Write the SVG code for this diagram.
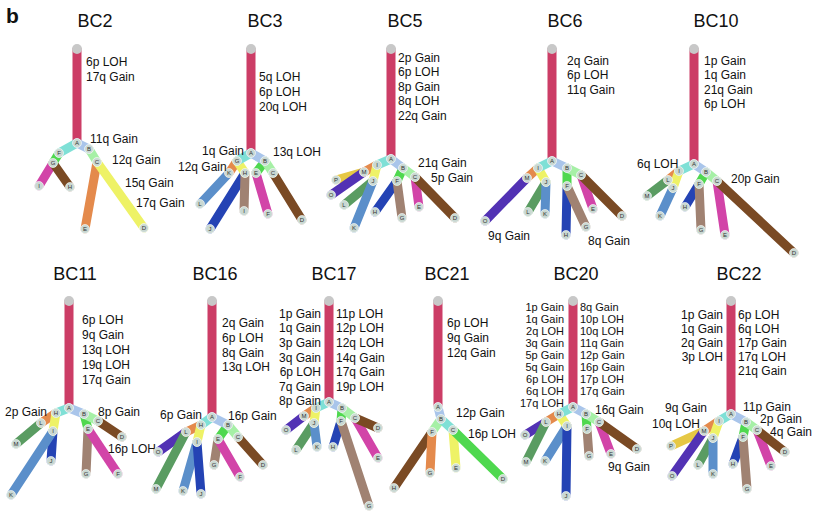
<svg xmlns="http://www.w3.org/2000/svg" width="824" height="515" viewBox="0 0 824 515">
<style>
text{font-family:"Liberation Sans",Arial,sans-serif;fill:#111}
.t{font-size:12px}.s{font-size:11px}.h{font-size:18px;text-anchor:middle}.r{text-anchor:end}
line{stroke-width:9;stroke-linecap:round}
.tr{stroke:#cc3d66;stroke-linecap:butt}.cy{stroke:#7fe0d6}.lb{stroke:#a9c5ea}.lg{stroke:#a6f0a6}.gr{stroke:#4fd84f}.br{stroke:#7a4a24}.mg{stroke:#d244a8}.tp{stroke:#a08272}.bl{stroke:#2443b4}.or{stroke:#e48a4c}.ye{stroke:#eef266}.sb{stroke:#5b8fca}.dg{stroke:#5a9c62}.pu{stroke:#5232b4}.go{stroke:#e6c845}
circle{fill:#c9d8d2;stroke:#fff;stroke-width:.6}
.cap{fill:#c8c8c8;stroke:none}
.n{font-size:6px;text-anchor:middle;fill:#333}
</style>
<rect width="824" height="515" fill="#fff"/>
<text x="6" y="23" style="font-size:21px;font-weight:bold">b</text>
<g id="titles">
<text class="h" x="95" y="27">BC2</text><text class="h" x="265" y="27">BC3</text><text class="h" x="405" y="27">BC5</text><text class="h" x="565" y="27">BC6</text><text class="h" x="716" y="27">BC10</text>
<text class="h" x="75" y="280">BC11</text><text class="h" x="215" y="280">BC16</text><text class="h" x="334" y="280">BC17</text><text class="h" x="447" y="280">BC21</text><text class="h" x="576" y="280">BC20</text><text class="h" x="739" y="280">BC22</text>
</g>
<g id="connectors">
<line class="tr" x1="77" y1="48" x2="77" y2="143"/>
<line class="or" x1="97" y1="162" x2="85" y2="229"/><line class="ye" x1="97" y1="162" x2="144" y2="228"/>
<line class="mg" x1="53" y1="163" x2="39" y2="186"/><line class="br" x1="53" y1="163" x2="70" y2="187"/>
<line class="gr" x1="59" y1="153" x2="53" y2="163"/><line class="cy" x1="77" y1="143" x2="59" y2="153"/>
<line class="lg" x1="89" y1="149" x2="97" y2="162"/><line class="lb" x1="77" y1="143" x2="89" y2="149"/>
<line class="tr" x1="251" y1="48" x2="251" y2="153"/>
<line class="sb" x1="229" y1="173" x2="200" y2="204"/><line class="bl" x1="245" y1="173" x2="210" y2="229"/><line class="tp" x1="245" y1="173" x2="244" y2="211"/>
<line class="mg" x1="256" y1="173" x2="268" y2="214"/><line class="br" x1="273" y1="173" x2="302" y2="220"/>
<line class="or" x1="237" y1="161" x2="229" y2="173"/><line class="ye" x1="237" y1="161" x2="245" y2="173"/><line class="cy" x1="251" y1="153" x2="237" y2="161"/>
<line class="gr" x1="265" y1="161" x2="256" y2="173"/><line class="lg" x1="265" y1="161" x2="273" y2="173"/><line class="lb" x1="251" y1="153" x2="265" y2="161"/>
<line class="tr" x1="391" y1="48" x2="391" y2="159"/>
<line class="go" x1="364" y1="172" x2="336" y2="180"/><line class="pu" x1="364" y1="172" x2="331" y2="195"/>
<line class="dg" x1="373" y1="181" x2="344" y2="205"/><line class="sb" x1="373" y1="181" x2="354" y2="228"/>
<line class="bl" x1="397" y1="181" x2="375" y2="212"/><line class="tp" x1="397" y1="181" x2="402" y2="218"/>
<line class="mg" x1="415" y1="177" x2="419" y2="207"/><line class="br" x1="415" y1="177" x2="455" y2="218"/>
<line class="or" x1="377" y1="165" x2="364" y2="172"/><line class="ye" x1="377" y1="165" x2="373" y2="181"/><line class="cy" x1="391" y1="159" x2="377" y2="165"/>
<line class="gr" x1="403" y1="168" x2="397" y2="181"/><line class="lg" x1="403" y1="168" x2="415" y2="177"/><line class="lb" x1="391" y1="159" x2="403" y2="168"/>
<line class="tr" x1="552" y1="48" x2="552" y2="161"/>
<line class="pu" x1="527" y1="178" x2="485" y2="221"/>
<line class="dg" x1="546" y1="182" x2="528" y2="212"/><line class="sb" x1="546" y1="182" x2="545" y2="214"/>
<line class="bl" x1="567" y1="186" x2="566" y2="235"/><line class="tp" x1="567" y1="186" x2="586" y2="227"/>
<line class="mg" x1="581" y1="175" x2="593" y2="209"/><line class="br" x1="581" y1="175" x2="622" y2="216"/>
<line class="or" x1="538" y1="168" x2="527" y2="178"/><line class="ye" x1="538" y1="168" x2="546" y2="182"/><line class="cy" x1="552" y1="161" x2="538" y2="168"/>
<line class="gr" x1="567" y1="168" x2="567" y2="186"/><line class="lg" x1="567" y1="168" x2="581" y2="175"/><line class="lb" x1="552" y1="161" x2="567" y2="168"/>
<line class="tr" x1="694" y1="48" x2="694" y2="164"/>
<line class="dg" x1="668" y1="180" x2="647" y2="196"/><line class="sb" x1="673" y1="188" x2="660" y2="216"/>
<line class="bl" x1="699" y1="184" x2="685" y2="207"/><line class="tp" x1="699" y1="184" x2="701" y2="230"/>
<line class="mg" x1="717" y1="181" x2="725" y2="235"/><line class="br" x1="717" y1="181" x2="794" y2="253"/>
<line class="or" x1="679" y1="171" x2="668" y2="180"/><line class="ye" x1="679" y1="171" x2="673" y2="188"/><line class="cy" x1="694" y1="164" x2="679" y2="171"/>
<line class="gr" x1="706" y1="172" x2="699" y2="184"/><line class="lg" x1="706" y1="172" x2="717" y2="181"/><line class="lb" x1="694" y1="164" x2="706" y2="172"/>
<line class="tr" x1="69" y1="300" x2="69" y2="408"/>
<line class="dg" x1="41" y1="423" x2="16" y2="444"/><line class="bl" x1="53" y1="431" x2="51" y2="461"/><line class="sb" x1="53" y1="431" x2="11" y2="495"/>
<line class="tp" x1="88" y1="429" x2="86" y2="474"/><line class="mg" x1="88" y1="429" x2="118" y2="474"/><line class="br" x1="98" y1="421" x2="122" y2="437"/>
<line class="or" x1="56" y1="413" x2="41" y2="423"/><line class="ye" x1="56" y1="413" x2="53" y2="431"/><line class="cy" x1="69" y1="408" x2="56" y2="413"/>
<line class="gr" x1="84" y1="414" x2="88" y2="429"/><line class="lg" x1="84" y1="414" x2="98" y2="421"/><line class="lb" x1="69" y1="408" x2="84" y2="414"/>
<line class="tr" x1="212" y1="300" x2="212" y2="417"/>
<line class="pu" x1="186" y1="432" x2="158" y2="452"/><line class="dg" x1="186" y1="432" x2="156" y2="489"/>
<line class="sb" x1="197" y1="442" x2="183" y2="491"/><line class="bl" x1="197" y1="442" x2="201" y2="494"/>
<line class="tp" x1="218" y1="439" x2="214" y2="465"/><line class="mg" x1="218" y1="439" x2="240" y2="477"/><line class="br" x1="238" y1="437" x2="263" y2="465"/>
<line class="or" x1="201" y1="425" x2="186" y2="432"/><line class="ye" x1="201" y1="425" x2="197" y2="442"/><line class="cy" x1="212" y1="417" x2="201" y2="425"/>
<line class="gr" x1="228" y1="425" x2="218" y2="439"/><line class="lg" x1="228" y1="425" x2="238" y2="437"/><line class="lb" x1="212" y1="417" x2="228" y2="425"/>
<line class="tr" x1="329" y1="300" x2="329" y2="402"/>
<line class="pu" x1="304" y1="416" x2="286" y2="430"/><line class="dg" x1="314" y1="423" x2="296" y2="450"/><line class="sb" x1="314" y1="423" x2="317" y2="447"/>
<line class="bl" x1="341" y1="421" x2="333" y2="447"/><line class="tp" x1="341" y1="421" x2="369" y2="506"/>
<line class="mg" x1="355" y1="418" x2="378" y2="458"/><line class="br" x1="355" y1="418" x2="378" y2="428"/>
<line class="or" x1="316" y1="408" x2="304" y2="416"/><line class="ye" x1="316" y1="408" x2="314" y2="423"/><line class="cy" x1="329" y1="402" x2="316" y2="408"/>
<line class="gr" x1="342" y1="408" x2="341" y2="421"/><line class="lg" x1="342" y1="408" x2="355" y2="418"/><line class="lb" x1="329" y1="402" x2="342" y2="408"/>
<line class="tr" x1="438" y1="300" x2="438" y2="407"/>
<line class="br" x1="432" y1="432" x2="394" y2="488"/><line class="or" x1="432" y1="432" x2="430" y2="473"/>
<line class="ye" x1="453" y1="430" x2="456" y2="468"/><line class="gr" x1="453" y1="430" x2="503" y2="479"/>
<line class="lg" x1="441" y1="419" x2="432" y2="432"/><line class="cy" x1="441" y1="419" x2="453" y2="430"/><line class="lb" x1="438" y1="407" x2="441" y2="419"/>
<line class="tr" x1="573" y1="300" x2="573" y2="407"/>
<line class="pu" x1="546" y1="422" x2="525" y2="435"/><line class="dg" x1="546" y1="422" x2="526" y2="462"/>
<line class="sb" x1="567" y1="426" x2="545" y2="461"/><line class="bl" x1="567" y1="426" x2="566" y2="496"/>
<line class="tp" x1="587" y1="429" x2="589" y2="456"/><line class="mg" x1="599" y1="422" x2="611" y2="454"/><line class="br" x1="599" y1="422" x2="637" y2="449"/>
<line class="or" x1="559" y1="414" x2="546" y2="422"/><line class="ye" x1="559" y1="414" x2="567" y2="426"/><line class="cy" x1="573" y1="407" x2="559" y2="414"/>
<line class="gr" x1="586" y1="414" x2="587" y2="429"/><line class="lg" x1="586" y1="414" x2="599" y2="422"/><line class="lb" x1="573" y1="407" x2="586" y2="414"/>
<line class="tr" x1="731" y1="300" x2="731" y2="414"/>
<line class="go" x1="704" y1="431" x2="671" y2="446"/><line class="pu" x1="704" y1="431" x2="672" y2="476"/>
<line class="dg" x1="713" y1="438" x2="698" y2="465"/><line class="sb" x1="713" y1="438" x2="713" y2="474"/>
<line class="bl" x1="743" y1="437" x2="733" y2="464"/><line class="tp" x1="743" y1="437" x2="747" y2="489"/>
<line class="mg" x1="757" y1="430" x2="771" y2="466"/><line class="br" x1="757" y1="430" x2="785" y2="452"/>
<line class="or" x1="719" y1="421" x2="704" y2="431"/><line class="ye" x1="719" y1="421" x2="713" y2="438"/><line class="cy" x1="731" y1="414" x2="719" y2="421"/>
<line class="gr" x1="746" y1="422" x2="743" y2="437"/><line class="lg" x1="746" y1="422" x2="757" y2="430"/><line class="lb" x1="731" y1="414" x2="746" y2="422"/>
</g>
<g id="caps">
<circle class="cap" cx="77" cy="49" r="5"/><circle class="cap" cx="251" cy="49" r="5"/><circle class="cap" cx="391" cy="49" r="5"/><circle class="cap" cx="552" cy="49" r="5"/><circle class="cap" cx="694" cy="49" r="5"/>
<circle class="cap" cx="69" cy="301" r="5"/><circle class="cap" cx="212" cy="301" r="5"/><circle class="cap" cx="329" cy="301" r="5"/><circle class="cap" cx="438" cy="301" r="5"/><circle class="cap" cx="573" cy="301" r="5"/><circle class="cap" cx="731" cy="301" r="5"/>
</g>
<g id="BC2">
<circle cx="77" cy="143" r="4.5"/><text class="n" x="77" y="145">A</text>
<circle cx="59" cy="153" r="4.5"/><text class="n" x="59" y="155">F</text>
<circle cx="53" cy="163" r="4.5"/><text class="n" x="53" y="165">G</text>
<circle cx="39" cy="186" r="4.5"/><text class="n" x="39" y="188">I</text>
<circle cx="70" cy="187" r="4.5"/><text class="n" x="70" y="189">H</text>
<circle cx="89" cy="149" r="4.5"/><text class="n" x="89" y="151">B</text>
<circle cx="97" cy="162" r="4.5"/><text class="n" x="97" y="164">C</text>
<circle cx="85" cy="229" r="4.5"/><text class="n" x="85" y="231">E</text>
<circle cx="144" cy="228" r="4.5"/><text class="n" x="144" y="230">D</text>
<text class="t" x="86" y="66">6p LOH</text><text class="t" x="86" y="81">17q Gain</text>
<text class="t" x="90" y="143">11q Gain</text><text class="t" x="112" y="164">12q Gain</text><text class="t" x="125" y="187">15q Gain</text><text class="t" x="136" y="207">17q Gain</text>
</g>
<g id="BC3">
<circle cx="251" cy="153" r="4.5"/><text class="n" x="251" y="155">A</text>
<circle cx="237" cy="161" r="4.5"/><text class="n" x="237" y="163">G</text>
<circle cx="229" cy="173" r="4.5"/><text class="n" x="229" y="175">K</text>
<circle cx="200" cy="204" r="4.5"/><text class="n" x="200" y="206">L</text>
<circle cx="245" cy="173" r="4.5"/><text class="n" x="245" y="175">H</text>
<circle cx="210" cy="229" r="4.5"/><text class="n" x="210" y="231">J</text>
<circle cx="244" cy="211" r="4.5"/><text class="n" x="244" y="213">I</text>
<circle cx="265" cy="161" r="4.5"/><text class="n" x="265" y="163">B</text>
<circle cx="256" cy="173" r="4.5"/><text class="n" x="256" y="175">E</text>
<circle cx="268" cy="214" r="4.5"/><text class="n" x="268" y="216">F</text>
<circle cx="273" cy="173" r="4.5"/><text class="n" x="273" y="175">C</text>
<circle cx="302" cy="220" r="4.5"/><text class="n" x="302" y="222">D</text>
<text class="t" x="259" y="81">5q LOH</text><text class="t" x="259" y="96">6p LOH</text><text class="t" x="259" y="111">20q LOH</text>
<text class="t" x="202" y="155">1q Gain</text><text class="t" x="178" y="171">12q Gain</text><text class="t" x="273" y="156">13q LOH</text>
</g>
<g id="BC5">
<circle cx="391" cy="159" r="4.5"/><text class="n" x="391" y="161">A</text>
<circle cx="377" cy="165" r="4.5"/><text class="n" x="377" y="167">I</text>
<circle cx="364" cy="172" r="4.5"/><text class="n" x="364" y="174">M</text>
<circle cx="336" cy="180" r="4.5"/><text class="n" x="336" y="182">P</text>
<circle cx="331" cy="195" r="4.5"/><text class="n" x="331" y="197">O</text>
<circle cx="373" cy="181" r="4.5"/><text class="n" x="373" y="183">J</text>
<circle cx="344" cy="205" r="4.5"/><text class="n" x="344" y="207">L</text>
<circle cx="354" cy="228" r="4.5"/><text class="n" x="354" y="230">K</text>
<circle cx="403" cy="168" r="4.5"/><text class="n" x="403" y="170">B</text>
<circle cx="397" cy="181" r="4.5"/><text class="n" x="397" y="183">F</text>
<circle cx="375" cy="212" r="4.5"/><text class="n" x="375" y="214">H</text>
<circle cx="402" cy="218" r="4.5"/><text class="n" x="402" y="220">G</text>
<circle cx="415" cy="177" r="4.5"/><text class="n" x="415" y="179">C</text>
<circle cx="419" cy="207" r="4.5"/><text class="n" x="419" y="209">E</text>
<circle cx="455" cy="218" r="4.5"/><text class="n" x="455" y="220">D</text>
<text class="t" x="398" y="62">2p Gain</text><text class="t" x="398" y="76">6p LOH</text><text class="t" x="398" y="91">8p Gain</text><text class="t" x="398" y="105">8q LOH</text><text class="t" x="398" y="120">22q Gain</text>
<text class="t" x="418" y="167">21q Gain</text><text class="t" x="431" y="182">5p Gain</text>
</g>
<g id="BC6">
<circle cx="552" cy="161" r="4.5"/><text class="n" x="552" y="163">A</text>
<circle cx="538" cy="168" r="4.5"/><text class="n" x="538" y="170">I</text>
<circle cx="527" cy="178" r="4.5"/><text class="n" x="527" y="180">M</text>
<circle cx="485" cy="221" r="4.5"/><text class="n" x="485" y="223">O</text>
<circle cx="546" cy="182" r="4.5"/><text class="n" x="546" y="184">J</text>
<circle cx="528" cy="212" r="4.5"/><text class="n" x="528" y="214">L</text>
<circle cx="545" cy="214" r="4.5"/><text class="n" x="545" y="216">K</text>
<circle cx="567" cy="168" r="4.5"/><text class="n" x="567" y="170">B</text>
<circle cx="567" cy="186" r="4.5"/><text class="n" x="567" y="188">F</text>
<circle cx="566" cy="235" r="4.5"/><text class="n" x="566" y="237">H</text>
<circle cx="586" cy="227" r="4.5"/><text class="n" x="586" y="229">G</text>
<circle cx="581" cy="175" r="4.5"/><text class="n" x="581" y="177">C</text>
<circle cx="593" cy="209" r="4.5"/><text class="n" x="593" y="211">E</text>
<circle cx="622" cy="216" r="4.5"/><text class="n" x="622" y="218">D</text>
<text class="t" x="567" y="65">2q Gain</text><text class="t" x="567" y="79">6p LOH</text><text class="t" x="567" y="94">11q Gain</text>
<text class="t" x="488" y="240">9q Gain</text><text class="t" x="588" y="245">8q Gain</text>
</g>
<g id="BC10">
<circle cx="694" cy="164" r="4.5"/><text class="n" x="694" y="166">A</text>
<circle cx="679" cy="171" r="4.5"/><text class="n" x="679" y="173">I</text>
<circle cx="668" cy="180" r="4.5"/><text class="n" x="668" y="182">L</text>
<circle cx="647" cy="196" r="4.5"/><text class="n" x="647" y="198">M</text>
<circle cx="673" cy="188" r="4.5"/><text class="n" x="673" y="190">J</text>
<circle cx="660" cy="216" r="4.5"/><text class="n" x="660" y="218">K</text>
<circle cx="706" cy="172" r="4.5"/><text class="n" x="706" y="174">B</text>
<circle cx="699" cy="184" r="4.5"/><text class="n" x="699" y="186">F</text>
<circle cx="685" cy="207" r="4.5"/><text class="n" x="685" y="209">H</text>
<circle cx="701" cy="230" r="4.5"/><text class="n" x="701" y="232">G</text>
<circle cx="717" cy="181" r="4.5"/><text class="n" x="717" y="183">C</text>
<circle cx="725" cy="235" r="4.5"/><text class="n" x="725" y="237">E</text>
<circle cx="794" cy="253" r="4.5"/><text class="n" x="794" y="255">D</text>
<text class="t" x="704" y="65">1p Gain</text><text class="t" x="704" y="79">1q Gain</text><text class="t" x="704" y="94">21q Gain</text><text class="t" x="704" y="108">6p LOH</text>
<text class="t" x="637" y="168">6q LOH</text><text class="t" x="731" y="183">20p Gain</text>
</g>
<g id="BC11">
<circle cx="69" cy="408" r="4.5"/><text class="n" x="69" y="410">A</text>
<circle cx="56" cy="413" r="4.5"/><text class="n" x="56" y="415">H</text>
<circle cx="41" cy="423" r="4.5"/><text class="n" x="41" y="425">L</text>
<circle cx="16" cy="444" r="4.5"/><text class="n" x="16" y="446">M</text>
<circle cx="53" cy="431" r="4.5"/><text class="n" x="53" y="433">I</text>
<circle cx="51" cy="461" r="4.5"/><text class="n" x="51" y="463">J</text>
<circle cx="11" cy="495" r="4.5"/><text class="n" x="11" y="497">K</text>
<circle cx="84" cy="414" r="4.5"/><text class="n" x="84" y="416">B</text>
<circle cx="88" cy="429" r="4.5"/><text class="n" x="88" y="431">E</text>
<circle cx="86" cy="474" r="4.5"/><text class="n" x="86" y="476">G</text>
<circle cx="118" cy="474" r="4.5"/><text class="n" x="118" y="476">F</text>
<circle cx="98" cy="421" r="4.5"/><text class="n" x="98" y="423">C</text>
<circle cx="122" cy="437" r="4.5"/><text class="n" x="122" y="439">D</text>
<text class="t" x="82" y="324">6p LOH</text><text class="t" x="82" y="339">9q Gain</text><text class="t" x="82" y="354">13q LOH</text><text class="t" x="82" y="369">19q LOH</text><text class="t" x="82" y="384">17q Gain</text>
<text class="t" x="5" y="416">2p Gain</text><text class="t" x="98" y="416">8p Gain</text><text class="t" x="108" y="453">16p LOH</text>
</g>
<g id="BC16">
<circle cx="212" cy="417" r="4.5"/><text class="n" x="212" y="419">A</text>
<circle cx="201" cy="425" r="4.5"/><text class="n" x="201" y="427">H</text>
<circle cx="186" cy="432" r="4.5"/><text class="n" x="186" y="434">L</text>
<circle cx="158" cy="452" r="4.5"/><text class="n" x="158" y="454">O</text>
<circle cx="156" cy="489" r="4.5"/><text class="n" x="156" y="491">M</text>
<circle cx="197" cy="442" r="4.5"/><text class="n" x="197" y="444">I</text>
<circle cx="183" cy="491" r="4.5"/><text class="n" x="183" y="493">K</text>
<circle cx="201" cy="494" r="4.5"/><text class="n" x="201" y="496">J</text>
<circle cx="228" cy="425" r="4.5"/><text class="n" x="228" y="427">B</text>
<circle cx="218" cy="439" r="4.5"/><text class="n" x="218" y="441">E</text>
<circle cx="214" cy="465" r="4.5"/><text class="n" x="214" y="467">G</text>
<circle cx="240" cy="477" r="4.5"/><text class="n" x="240" y="479">F</text>
<circle cx="238" cy="437" r="4.5"/><text class="n" x="238" y="439">C</text>
<circle cx="263" cy="465" r="4.5"/><text class="n" x="263" y="467">D</text>
<text class="t" x="222" y="327">2q Gain</text><text class="t" x="222" y="342">6p LOH</text><text class="t" x="222" y="357">8q Gain</text><text class="t" x="222" y="371">13q LOH</text>
<text class="t" x="160" y="419">6p Gain</text><text class="t" x="228" y="420">16p Gain</text>
</g>
<g id="BC17">
<circle cx="329" cy="402" r="4.5"/><text class="n" x="329" y="404">A</text>
<circle cx="316" cy="408" r="4.5"/><text class="n" x="316" y="410">I</text>
<circle cx="304" cy="416" r="4.5"/><text class="n" x="304" y="418">M</text>
<circle cx="286" cy="430" r="4.5"/><text class="n" x="286" y="432">O</text>
<circle cx="314" cy="423" r="4.5"/><text class="n" x="314" y="425">J</text>
<circle cx="296" cy="450" r="4.5"/><text class="n" x="296" y="452">L</text>
<circle cx="317" cy="447" r="4.5"/><text class="n" x="317" y="449">K</text>
<circle cx="342" cy="408" r="4.5"/><text class="n" x="342" y="410">B</text>
<circle cx="341" cy="421" r="4.5"/><text class="n" x="341" y="423">F</text>
<circle cx="333" cy="447" r="4.5"/><text class="n" x="333" y="449">H</text>
<circle cx="369" cy="506" r="4.5"/><text class="n" x="369" y="508">G</text>
<circle cx="355" cy="418" r="4.5"/><text class="n" x="355" y="420">C</text>
<circle cx="378" cy="458" r="4.5"/><text class="n" x="378" y="460">E</text>
<circle cx="378" cy="428" r="4.5"/><text class="n" x="378" y="430">D</text>
<text class="t r" x="321" y="318">1p Gain</text><text class="t r" x="321" y="332">1q Gain</text><text class="t r" x="321" y="347">3p Gain</text><text class="t r" x="321" y="362">3q Gain</text><text class="t r" x="321" y="376">6p LOH</text><text class="t r" x="321" y="391">7q Gain</text><text class="t r" x="321" y="405">8p Gain</text>
<text class="t" x="336" y="318">11p LOH</text><text class="t" x="336" y="332">12p LOH</text><text class="t" x="336" y="347">12q LOH</text><text class="t" x="336" y="362">14q Gain</text><text class="t" x="336" y="376">17q Gain</text><text class="t" x="336" y="391">19p LOH</text>
</g>
<g id="BC21">
<circle cx="438" cy="407" r="4.5"/><text class="n" x="438" y="409">A</text>
<circle cx="441" cy="419" r="4.5"/><text class="n" x="441" y="421">B</text>
<circle cx="432" cy="432" r="4.5"/><text class="n" x="432" y="434">F</text>
<circle cx="394" cy="488" r="4.5"/><text class="n" x="394" y="490">H</text>
<circle cx="430" cy="473" r="4.5"/><text class="n" x="430" y="475">G</text>
<circle cx="453" cy="430" r="4.5"/><text class="n" x="453" y="432">C</text>
<circle cx="456" cy="468" r="4.5"/><text class="n" x="456" y="470">E</text>
<circle cx="503" cy="479" r="4.5"/><text class="n" x="503" y="481">D</text>
<text class="t" x="447" y="327">6p LOH</text><text class="t" x="447" y="342">9q Gain</text><text class="t" x="447" y="357">12q Gain</text>
<text class="t" x="456" y="417">12p Gain</text><text class="t" x="468" y="438">16p LOH</text>
</g>
<g id="BC20">
<circle cx="573" cy="407" r="4.5"/><text class="n" x="573" y="409">A</text>
<circle cx="559" cy="414" r="4.5"/><text class="n" x="559" y="416">H</text>
<circle cx="546" cy="422" r="4.5"/><text class="n" x="546" y="424">L</text>
<circle cx="525" cy="435" r="4.5"/><text class="n" x="525" y="437">O</text>
<circle cx="526" cy="462" r="4.5"/><text class="n" x="526" y="464">M</text>
<circle cx="567" cy="426" r="4.5"/><text class="n" x="567" y="428">I</text>
<circle cx="545" cy="461" r="4.5"/><text class="n" x="545" y="463">K</text>
<circle cx="566" cy="496" r="4.5"/><text class="n" x="566" y="498">J</text>
<circle cx="586" cy="414" r="4.5"/><text class="n" x="586" y="416">B</text>
<circle cx="587" cy="429" r="4.5"/><text class="n" x="587" y="431">F</text>
<circle cx="589" cy="456" r="4.5"/><text class="n" x="589" y="458">G</text>
<circle cx="599" cy="422" r="4.5"/><text class="n" x="599" y="424">C</text>
<circle cx="611" cy="454" r="4.5"/><text class="n" x="611" y="456">E</text>
<circle cx="637" cy="449" r="4.5"/><text class="n" x="637" y="451">D</text>
<text class="s r" x="564" y="311">1p Gain</text><text class="s r" x="564" y="323">1q Gain</text><text class="s r" x="564" y="335">2q LOH</text><text class="s r" x="564" y="347">3q Gain</text><text class="s r" x="564" y="359">5p Gain</text><text class="s r" x="564" y="371">5q Gain</text><text class="s r" x="564" y="383">6p LOH</text><text class="s r" x="564" y="395">6q LOH</text><text class="s r" x="564" y="407">17q LOH</text>
<text class="s" x="580" y="311">8q Gain</text><text class="s" x="580" y="323">10p LOH</text><text class="s" x="580" y="335">10q LOH</text><text class="s" x="580" y="347">11q Gain</text><text class="s" x="580" y="359">12p Gain</text><text class="s" x="580" y="371">16p Gain</text><text class="s" x="580" y="383">17p LOH</text><text class="s" x="580" y="395">17q Gain</text>
<text class="t" x="595" y="414">16q Gain</text><text class="t" x="608" y="471">9q Gain</text>
</g>
<g id="BC22">
<circle cx="731" cy="414" r="4.5"/><text class="n" x="731" y="416">A</text>
<circle cx="719" cy="421" r="4.5"/><text class="n" x="719" y="423">I</text>
<circle cx="704" cy="431" r="4.5"/><text class="n" x="704" y="433">M</text>
<circle cx="671" cy="446" r="4.5"/><text class="n" x="671" y="448">P</text>
<circle cx="672" cy="476" r="4.5"/><text class="n" x="672" y="478">O</text>
<circle cx="713" cy="438" r="4.5"/><text class="n" x="713" y="440">J</text>
<circle cx="698" cy="465" r="4.5"/><text class="n" x="698" y="467">L</text>
<circle cx="713" cy="474" r="4.5"/><text class="n" x="713" y="476">K</text>
<circle cx="746" cy="422" r="4.5"/><text class="n" x="746" y="424">B</text>
<circle cx="743" cy="437" r="4.5"/><text class="n" x="743" y="439">F</text>
<circle cx="733" cy="464" r="4.5"/><text class="n" x="733" y="466">H</text>
<circle cx="747" cy="489" r="4.5"/><text class="n" x="747" y="491">G</text>
<circle cx="757" cy="430" r="4.5"/><text class="n" x="757" y="432">C</text>
<circle cx="771" cy="466" r="4.5"/><text class="n" x="771" y="468">E</text>
<circle cx="785" cy="452" r="4.5"/><text class="n" x="785" y="454">D</text>
<text class="t r" x="723" y="319">1p Gain</text><text class="t r" x="723" y="333">1q Gain</text><text class="t r" x="723" y="347">2q Gain</text><text class="t r" x="723" y="361">3p LOH</text>
<text class="t" x="738" y="319">6p LOH</text><text class="t" x="738" y="333">6q LOH</text><text class="t" x="738" y="347">17p Gain</text><text class="t" x="738" y="361">17q LOH</text><text class="t" x="738" y="375">21q Gain</text>
<text class="t" x="665" y="412">9q Gain</text><text class="t" x="652" y="428">10q LOH</text><text class="t" x="743" y="411">11p Gain</text><text class="t" x="760" y="423">2p Gain</text><text class="t" x="770" y="436">4q Gain</text>
</g>
</svg>
